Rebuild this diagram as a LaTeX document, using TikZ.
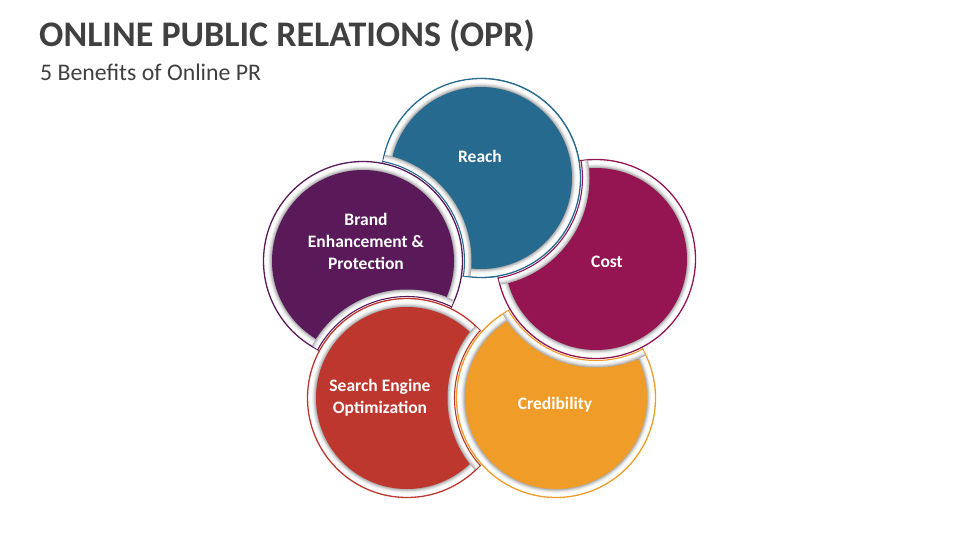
\documentclass[tikz,border=0pt]{standalone}
\usepackage{fontspec}
\setmainfont{Carlito}
\definecolor{creach}{HTML}{266A8F}
\definecolor{cbrand}{HTML}{5A1A5A}
\definecolor{ccost}{HTML}{941552}
\definecolor{cseo}{HTML}{BD372E}
\definecolor{ccred}{HTML}{F09C28}
\definecolor{ctitle}{HTML}{404040}
% one bubble: outline, white ring with soft inner shadow, coloured disc
\newcommand\drawbubble[2]{%
  \fill[white] (#1) circle (99.5);
  \draw[#2, line width=1.3] (#1) circle (99.5);
  \foreach \r/\g in {95.5/98, 94.8/95, 94.2/91, 93.6/87, 93/82, 92.5/77, 92/72, 91.5/67}
    \fill[white!\g!black] (#1) circle (\r);
  \fill[#2] (#1) circle (91);
}
% concave edge cut into the lower bubble #2 (colour #3) by the upper bubble #1
\newcommand\cutedge[3]{%
  \begin{scope}
    \clip (#2) circle (98.8);
    \foreach \r/\g in {108.5/67, 108/72, 107.5/77, 107/82, 106.4/87, 105.8/91, 105.2/95, 104.5/98, 103.8/100}
      \fill[white!\g!black] (#1) circle (\r);
  \end{scope}
  \begin{scope}
    \clip (#2) circle (100.2);
    \draw[#3, line width=1.1] (#1) circle (101.5);
  \end{scope}
}
\tikzset{
  lbl/.style={text=white, font=\fontsize{17.5}{22}\selectfont\bfseries, align=center, inner sep=0pt},
}
\begin{document}
\begin{tikzpicture}[x=1pt, y=-1pt]
\useasboundingbox (0,0) rectangle (960,540);
\coordinate (reach) at (481,178);
\coordinate (brand) at (363,261);
\coordinate (cost)  at (596,259);
\coordinate (seo)   at (407,398);
\coordinate (cred)  at (556,398);

\node[anchor=base west, text=ctitle, font=\fontsize{36}{40}\selectfont\bfseries, inner sep=0pt] (title) at (39,47) {ONLINE PUBLIC RELATIONS (OPR)};
\node[anchor=base west, text=ctitle, font=\fontsize{23.8}{28}\selectfont, inner sep=0pt] (subtitle) at (40,81) {5 Benefits of Online PR};

\drawbubble{reach}{creach}
\cutedge{brand}{reach}{creach}
\drawbubble{brand}{cbrand}
\cutedge{seo}{brand}{cbrand}
\drawbubble{seo}{cseo}
\cutedge{cred}{seo}{cseo}
\drawbubble{cred}{ccred}
\cutedge{cost}{cred}{ccred}
\drawbubble{cost}{ccost}
\begin{scope}
  \clip (481,60) rectangle (700,300);
  \cutedge{reach}{cost}{ccost}
  \drawbubble{reach}{creach}
\end{scope}

\node[lbl] (treach) at (480,156) {Reach};
\node[lbl] (tbrand) at (366,241) {Brand\\Enhancement \&\\Protection};
\node[lbl] (tcost) at (607,262) {Cost};
\node[lbl] (tseo) at (380,398) {Search Engine\\Optimization};
\node[lbl] (tcred) at (555,405) {Credibility};
\end{tikzpicture}
\end{document}
